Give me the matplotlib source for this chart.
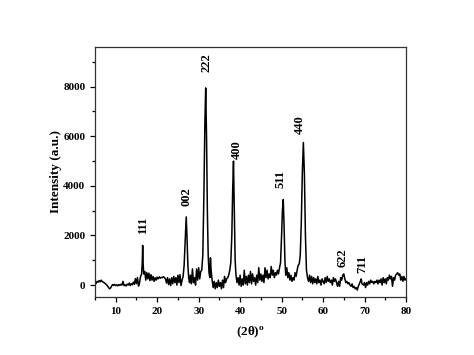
import matplotlib
matplotlib.use("Agg")
import matplotlib.pyplot as plt
from matplotlib.ticker import MultipleLocator

# 字体: Times 风格粗体
plt.rcParams['font.family'] = ['Liberation Serif', 'DejaVu Serif']
plt.rcParams['font.weight'] = 'bold'

# XRD 数据 (2θ, 强度)
two_theta = [
    5.0, 5.25, 5.5, 5.75, 6.0, 6.25, 6.5, 6.75, 7.0, 7.25, 7.5, 7.75, 8.0, 8.25, 8.5, 8.75,
    9.0, 9.25, 9.5, 9.75, 10.0, 10.25, 10.5, 10.75, 11.0, 11.25, 11.5, 11.75, 12.0, 12.25,
    12.5, 12.75, 13.0, 13.25, 13.5, 13.75, 14.0, 14.25, 14.5, 14.75, 15.0, 15.25, 15.5, 15.75,
    16.0, 16.25, 16.4, 16.5, 16.6, 16.75, 17.0, 17.25, 17.5, 17.75, 18.0, 18.25, 18.5, 18.75,
    19.0, 19.25, 19.5, 19.75, 20.0, 20.25, 20.5, 20.75, 21.0, 21.25, 21.5, 21.75, 22.0, 22.25,
    22.5, 22.75, 23.0, 23.25, 23.5, 23.75, 24.0, 24.25, 24.5, 24.75, 25.0, 25.25, 25.5, 25.75,
    26.0, 26.25, 26.5, 26.75, 27.0, 27.2, 27.4, 27.6, 27.8, 28.0, 28.25, 28.5, 28.75, 29.0,
    29.25, 29.5, 29.75, 30.0, 30.25, 30.5, 30.75, 31.0, 31.25, 31.5, 31.7, 31.9, 32.1, 32.3,
    32.5, 32.7, 32.85, 33.0, 33.25, 33.5, 33.75, 34.0, 34.25, 34.5, 34.75, 35.0, 35.25, 35.5,
    35.75, 36.0, 36.25, 36.5, 36.75, 37.0, 37.25, 37.5, 37.75, 38.0, 38.2, 38.4, 38.6, 38.8,
    39.0, 39.25, 39.5, 39.75, 40.0, 40.25, 40.5, 40.75, 41.0, 41.25, 41.5, 41.75, 42.0, 42.25,
    42.5, 42.75, 43.0, 43.25, 43.5, 43.75, 44.0, 44.25, 44.5, 44.75, 45.0, 45.25, 45.5, 45.75,
    46.0, 46.25, 46.5, 46.75, 47.0, 47.25, 47.5, 47.75, 48.0, 48.25, 48.5, 48.75, 49.0, 49.25,
    49.5, 49.75, 50.0, 50.2, 50.4, 50.6, 50.8, 51.0, 51.25, 51.5, 51.75, 52.0, 52.25, 52.5,
    52.75, 53.0, 53.25, 53.5, 53.75, 54.0, 54.25, 54.5, 54.75, 55.0, 55.25, 55.5, 55.75, 56.0,
    56.25, 56.5, 56.75, 57.0, 57.25, 57.5, 57.75, 58.0, 58.25, 58.5, 58.75, 59.0, 59.25, 59.5,
    59.75, 60.0, 60.25, 60.5, 60.75, 61.0, 61.25, 61.5, 61.75, 62.0, 62.25, 62.5, 62.75, 63.0,
    63.25, 63.5, 63.75, 64.0, 64.25, 64.5, 64.75, 65.0, 65.25, 65.5, 65.75, 66.0, 66.25, 66.5,
    66.75, 67.0, 67.25, 67.5, 67.75, 68.0, 68.25, 68.5, 68.75, 69.0, 69.2, 69.4, 69.75, 70.0,
    70.25, 70.5, 70.75, 71.0, 71.25, 71.5, 71.75, 72.0, 72.25, 72.5, 72.75, 73.0, 73.25, 73.5,
    73.75, 74.0, 74.25, 74.5, 74.75, 75.0, 75.25, 75.5, 75.75, 76.0, 76.25, 76.5, 76.75, 77.0,
    77.25, 77.5, 77.75, 78.0, 78.25, 78.5, 78.75, 79.0, 79.25, 79.5, 79.75, 80.0,
]
intensity = [
    100, 60, 150, 120, 180, 130, 200, 140, 120, 90, 60, 20, -30, -90, -150, -120,
    -40, 20, -10, 30, -20, 10, -30, 20, -10, 30, 0, 150, -20, 10,
    -40, 40, 0, 80, -20, 60, 10, 120, 30, 260, 60, 300, -40, 100,
    350, 450, 900, 1600, 900, 450, 550, 200, 500, 250, 480, 180, 420, 200,
    350, 150, 300, 200, 320, 250, 330, 280, 310, 300, 340, 300, 250, 80,
    300, 20, 250, -20, 300, 50, 350, 100, 300, 0, 400, 100, 420, -20,
    200, 350, 800, 1800, 2750, 1900, 800, 300, 100, 400, 50, 650, 100, 300,
    0, 650, 200, 700, 250, 550, 600, 1200, 3500, 6500, 7950, 6000, 3000, 1200,
    500, 300, 1100, 600, 200, -100, 150, -150, 100, -100, 200, -50, 100, -150,
    200, -100, 350, 100, 250, 300, 400, 600, 900, 2000, 3800, 5000, 3000, 1000,
    400, 100, 300, 0, 400, -50, 250, 0, 600, 50, 350, 0, 400, 100,
    550, 50, 450, 150, 300, 0, 400, 100, 700, 200, 450, 150, 400, 100,
    700, 300, 600, 250, 450, 300, 750, 400, 600, 300, 500, 400, 600, 450,
    700, 900, 2000, 3000, 3450, 2400, 1000, 400, 700, 300, 500, 200, 400, 150,
    300, 200, 500, 350, 600, 800, 850, 1200, 2500, 4500, 5750, 4500, 2000, 600,
    300, 150, 400, 100, 350, 50, 300, 100, 250, 50, 350, 100, 200, 0,
    250, 150, 50, 300, 100, 350, 150, 250, 100, 200, 0, 300, 150, 250,
    100, -50, 150, -50, 300, 200, 400, 450, 250, 100, 150, 50, 100, 0,
    -50, 50, -100, -50, -150, -100, -200, -50, 50, 150, 250, 50, 0, 100,
    -100, 100, 0, 150, 50, 200, 100, 150, 50, 150, 100, 200, 50, 200,
    100, 250, 0, 300, 100, 250, 50, 300, 200, 400, 250, 350, -50, 300,
    200, 400, 450, 500, 400, 450, 200, 350, 150, 350, 200, 250,
]

# 晶面标注 (文字, x, y)
peak_labels = ['111', '002', '222', '400', '511', '440', '622', '711']
label_x = [16.5, 27.0, 31.9, 39.3, 49.8, 54.3, 64.8, 69.4]
label_y = [2050, 3200, 8600, 5100, 3900, 6100, 730, 480]

fig = plt.figure(figsize=(4.74, 3.55), dpi=100)
ax = fig.add_axes([0.2004, 0.1634, 0.6561, 0.7042])

ax.plot(two_theta, intensity, color='black', linewidth=1.1)

for txt, x, y in zip(peak_labels, label_x, label_y):
    ax.text(x, y, txt, rotation=90, ha='center', va='bottom',
            fontsize=9, fontweight='bold')

ax.set_xlim(5, 80)
ax.set_ylim(-480, 9600)
ax.xaxis.set_major_locator(MultipleLocator(10))
ax.xaxis.set_minor_locator(MultipleLocator(5))
ax.set_yticks([0, 2000, 4000, 6000, 8000])
ax.yaxis.set_minor_locator(MultipleLocator(1000))
ax.tick_params(which='major', direction='out', length=3.5, width=0.9, labelsize=8)
ax.tick_params(which='minor', direction='out', length=2, width=0.9)
for lab in ax.get_xticklabels() + ax.get_yticklabels():
    lab.set_fontweight('bold')
for s in ax.spines.values():
    s.set_linewidth(0.9)
    s.set_color('#333333')

ax.set_xlabel('(2θ)$^{\\mathregular{o}}$', fontsize=9.5, fontweight='bold', labelpad=6)
ax.set_ylabel('Intensity (a.u.)', fontsize=9.5, fontweight='bold', labelpad=1)

fig.savefig('out.png', dpi=100)
